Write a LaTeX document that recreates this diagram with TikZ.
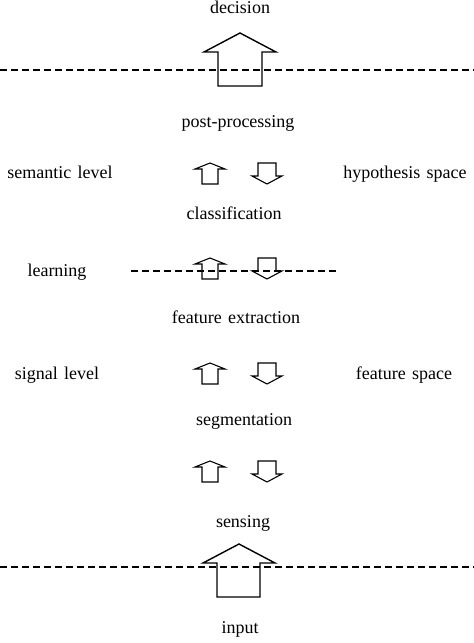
\documentclass[tikz,border=0pt]{standalone}
\usepackage{fontspec}
\setmainfont[WordSpace={1.4}]{Liberation Serif}
\begin{document}
\begin{tikzpicture}[x=1pt,y=-1pt,
  lbl/.style={inner sep=0pt,anchor=base,font=\fontsize{18}{21}\selectfont},
  dline/.style={line width=2pt,dash pattern=on 7pt off 4pt},
  arr/.style={draw,line width=1.1pt,line join=miter},
  bigarr/.style={draw,line width=1.4pt,line join=miter},
  uparr/.pic={\draw[arr] (0,0) -- (15,6) -- (8,6) -- (8,21) -- (-8,21) -- (-8,6) -- (-15,6) -- cycle;},
  dnarr/.pic={\draw[arr] (0,21) -- (15,13) -- (9,13) -- (9,0) -- (-9,0) -- (-9,13) -- (-15,13) -- cycle;}
]
\useasboundingbox (0,0) rectangle (474,643);
% texts
\node[lbl] (decision) at (240,13) {decision};
\node[lbl] (post) at (238,127) {post-processing};
\node[lbl] (sem) at (60,178) {semantic level};
\node[lbl] (hyp) at (405,178) {hypothesis space};
\node[lbl] (class) at (234,219) {classification};
\node[lbl] (learn) at (57,276) {learning};
\node[lbl] (featx) at (236,323) {feature extraction};
\node[lbl] (sig) at (57,379) {signal level};
\node[lbl] (fsp) at (404,379) {feature space};
\node[lbl] (seg) at (244,425) {segmentation};
\node[lbl] (sens) at (243,527) {sensing};
\node[lbl] (input) at (240,633) {input};
% dashed lines
\coordinate (t1) at (0,70); \coordinate (t2) at (474,70);
\coordinate (b1) at (0,567); \coordinate (b2) at (474,567);
\coordinate (l1) at (131,271); \coordinate (l2) at (337,271);
\draw[dline] (t1) -- (t2);
\draw[dline] (b1) -- (b2);
\draw[dline] (l1) -- (l2);
% big arrows
\draw[bigarr] (240,33) -- (276,52) -- (262,52) -- (262,86) -- (218,86) -- (218,52) -- (204,52) -- cycle;
\draw[bigarr] (239,544) -- (275,563) -- (260,563) -- (260,597) -- (217,597) -- (217,563) -- (203,563) -- cycle;
% small arrows
\pic at (210,163) {uparr};
\pic at (267,163) {dnarr};
\pic at (210,258) {uparr};
\pic at (267,258) {dnarr};
\pic at (210,363) {uparr};
\pic at (267,363) {dnarr};
\pic at (210,461) {uparr};
\pic at (267,461) {dnarr};
\end{tikzpicture}
\end{document}
